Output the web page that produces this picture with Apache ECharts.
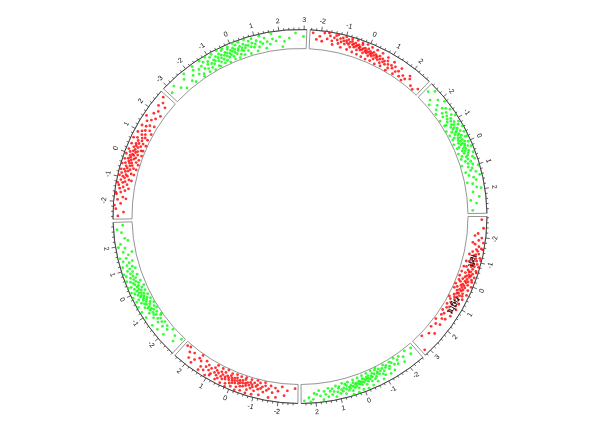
<!DOCTYPE html>
<html><head><meta charset="utf-8">
<script src="https://cdn.jsdelivr.net/npm/echarts@6/dist/echarts.min.js"></script>
<style>html,body{margin:0;padding:0;background:#fff}#c{width:600px;height:429px}</style>
</head><body><div id="c"></div>
<script>
// ---- data ----
const sectors = ['a','b','c','d','e','f','g','h'];
const xMin = [-2.72, -2.50, -2.66, -2.68, -2.58, -3.04, -2.33, -2.56];
const xMax = [ 3.16,  2.46,  2.38,  2.85,  2.66,  2.98,  2.62,  2.85];
const yLo = 0, yHi = 1;
const pointColors = ['#FF0000','#00FF00','#FF0000','#00FF00','#FF0000','#00FF00','#FF0000','#00FF00'];
const ticksA = [-2,-1,0,1,2,3];
const ticksB = [-2,-1,0,1,2];
const ticksC = [-2,-1,0,1,2];
const ticksD = [-2,-1,0,1,2];
const ticksE = [-2,-1,0,1,2];
const ticksF = [-3,-2,-1,0,1,2,3];
const ticksG = [-2,-1,0,1,2];
const ticksH = [-2,-1,0,1,2];
const textLabels = ['left','right'];
const textX = [-1, 1];
const textY = [0.5, 0.5];

const ptsA = [[-2.72,0.74],[-2.38,0.86],[-2.15,0.58],[-1.98,0.81],[-1.87,0.66],[-1.79,0.93],[-1.70,0.49],[-1.62,0.72],[-1.55,0.87],[-1.49,0.61],[-1.43,0.70],[-1.38,0.43],[-1.33,0.79],[-1.28,0.63],[-1.22,0.54],[-1.17,0.90],[-1.12,0.68],[-1.07,0.45],[-1.03,0.76],[-0.99,0.59],[-0.95,0.37],[-0.91,0.84],[-0.87,0.64],[-0.83,0.51],[-0.79,0.72],[-0.75,0.56],[-0.71,0.30],[-0.67,0.67],[-0.63,0.88],[-0.59,0.44],[-0.55,0.61],[-0.52,0.52],[-0.48,0.75],[-0.45,0.34],[-0.41,0.58],[-0.38,0.69],[-0.34,0.47],[-0.31,0.63],[-0.27,0.40],[-0.24,0.80],[-0.20,0.55],[-0.17,0.32],[-0.13,0.66],[-0.10,0.49],[-0.06,0.58],[-0.03,0.25],[0.01,0.71],[0.04,0.43],[0.08,0.53],[0.11,0.36],[0.15,0.62],[0.18,0.46],[0.22,0.20],[0.26,0.57],[0.29,0.39],[0.33,0.50],[0.37,0.28],[0.41,0.64],[0.45,0.42],[0.49,0.34],[0.53,0.53],[0.58,0.23],[0.62,0.45],[0.67,0.31],[0.72,0.58],[0.77,0.38],[0.82,0.16],[0.88,0.48],[0.94,0.27],[1.00,0.40],[1.07,0.13],[1.14,0.34],[1.22,0.22],[1.30,0.41],[1.39,0.10],[1.49,0.28],[1.60,0.19],[1.73,0.35],[1.88,0.08],[2.05,0.24],[2.27,0.14],[2.55,0.30],[2.84,0.11],[3.16,0.78],
  [-2.05,0.42],[-1.76,0.35],[-1.52,0.96],[-1.25,0.28],[-1.09,0.97],[-0.93,0.20],[-0.81,0.95],[-0.69,0.15],[-0.57,0.92],[-0.46,0.12],[-0.36,0.90],[-0.26,0.09],[-0.16,0.86],[-0.08,0.14],[0.03,0.93],[0.12,0.05],[0.21,0.83],[0.31,0.07],[0.40,0.88],[0.51,0.68],[0.63,0.77],[0.74,0.04],[0.86,0.71],[0.98,0.62],[1.11,0.74],[1.26,0.58],[1.45,0.66],[1.67,0.52],[1.98,0.47],[2.40,0.55]];
const ptsB = [[-2.50,0.18],[-2.21,0.09],[-2.02,0.31],[-1.86,0.14],[-1.74,0.26],[-1.63,0.06],[-1.54,0.38],[-1.46,0.21],[-1.39,0.12],[-1.32,0.33],[-1.26,0.45],[-1.20,0.19],[-1.14,0.28],[-1.09,0.08],[-1.04,0.40],[-0.99,0.23],[-0.94,0.52],[-0.89,0.31],[-0.85,0.16],[-0.80,0.43],[-0.76,0.27],[-0.72,0.36],[-0.68,0.11],[-0.64,0.49],[-0.60,0.30],[-0.56,0.58],[-0.52,0.22],[-0.48,0.41],[-0.44,0.34],[-0.41,0.62],[-0.37,0.47],[-0.33,0.25],[-0.30,0.39],[-0.26,0.55],[-0.23,0.31],[-0.19,0.44],[-0.16,0.68],[-0.12,0.37],[-0.09,0.51],[-0.05,0.29],[-0.02,0.46],[0.02,0.60],[0.05,0.42],[0.09,0.53],[0.12,0.35],[0.16,0.48],[0.19,0.71],[0.23,0.40],[0.26,0.57],[0.30,0.45],[0.34,0.63],[0.37,0.33],[0.41,0.52],[0.45,0.76],[0.49,0.44],[0.53,0.59],[0.57,0.50],[0.61,0.68],[0.66,0.38],[0.70,0.56],[0.75,0.81],[0.80,0.47],[0.85,0.64],[0.90,0.53],[0.96,0.73],[1.02,0.42],[1.08,0.61],[1.15,0.85],[1.22,0.55],[1.30,0.70],[1.38,0.49],[1.47,0.78],[1.57,0.62],[1.68,0.90],[1.80,0.67],[1.94,0.57],[2.10,0.82],[2.27,0.72],[2.46,0.88],
  [-2.35,0.44],[-1.95,0.58],[-1.68,0.47],[-1.43,0.66],[-1.23,0.72],[-1.01,0.64],[-0.87,0.80],[-0.74,0.03],[-0.62,0.77],[-0.50,0.05],[-0.39,0.86],[-0.28,0.09],[-0.17,0.92],[-0.07,0.12],[0.04,0.88],[0.14,0.15],[0.24,0.94],[0.35,0.17],[0.47,0.96],[0.59,0.21],[0.72,0.28],[0.84,0.19],[0.98,0.33],[1.12,0.26],[1.28,0.38],[1.45,0.31],[1.63,0.45],[1.85,0.37],[2.05,0.50],[2.20,0.95]];
const ptsC = [[-2.66,0.21],[-2.34,0.35],[-2.11,0.16],[-1.95,0.42],[-1.83,0.27],[-1.72,0.55],[-1.63,0.19],[-1.55,0.37],[-1.47,0.48],[-1.40,0.24],[-1.34,0.61],[-1.28,0.33],[-1.22,0.44],[-1.16,0.14],[-1.11,0.52],[-1.06,0.29],[-1.01,0.39],[-0.96,0.66],[-0.92,0.22],[-0.87,0.47],[-0.83,0.35],[-0.79,0.57],[-0.75,0.26],[-0.71,0.43],[-0.67,0.71],[-0.63,0.31],[-0.59,0.50],[-0.55,0.38],[-0.52,0.18],[-0.48,0.59],[-0.44,0.42],[-0.41,0.28],[-0.37,0.64],[-0.34,0.46],[-0.30,0.34],[-0.27,0.53],[-0.23,0.75],[-0.20,0.40],[-0.16,0.25],[-0.13,0.57],[-0.09,0.45],[-0.06,0.32],[-0.02,0.62],[0.01,0.49],[0.05,0.38],[0.08,0.69],[0.12,0.27],[0.15,0.54],[0.19,0.43],[0.23,0.80],[0.26,0.36],[0.30,0.58],[0.34,0.47],[0.38,0.23],[0.42,0.65],[0.46,0.41],[0.51,0.55],[0.55,0.30],[0.60,0.72],[0.65,0.44],[0.70,0.61],[0.75,0.35],[0.81,0.52],[0.87,0.26],[0.93,0.68],[1.00,0.40],[1.07,0.57],[1.15,0.31],[1.23,0.48],[1.32,0.19],[1.42,0.63],[1.53,0.37],[1.65,0.28],[1.79,0.51],[1.95,0.22],[2.14,0.34],[2.38,0.15],
  [-2.22,0.63],[-1.88,0.78],[-1.59,0.85],[-1.37,0.07],[-1.19,0.82],[-1.03,0.05],[-0.90,0.88],[-0.77,0.09],[-0.65,0.91],[-0.53,0.06],[-0.42,0.86],[-0.31,0.11],[-0.21,0.94],[-0.11,0.08],[-0.01,0.83],[0.10,0.13],[0.20,0.97],[0.31,0.04],[0.43,0.89],[0.56,0.10],[0.68,0.84],[0.80,0.07],[0.95,0.79],[1.10,0.92],[1.26,0.72],[1.44,0.86],[1.60,0.05],[1.84,0.76],[2.03,0.62],[2.24,0.09]];
const ptsD = [[-2.68,0.12],[-2.37,0.24],[-2.12,0.08],[-1.96,0.33],[-1.84,0.19],[-1.73,0.41],[-1.64,0.15],[-1.56,0.28],[-1.48,0.47],[-1.41,0.22],[-1.35,0.36],[-1.29,0.11],[-1.23,0.53],[-1.18,0.30],[-1.13,0.42],[-1.08,0.18],[-1.03,0.38],[-0.98,0.59],[-0.94,0.26],[-0.89,0.45],[-0.85,0.34],[-0.81,0.14],[-0.77,0.50],[-0.73,0.39],[-0.69,0.63],[-0.65,0.29],[-0.61,0.46],[-0.57,0.21],[-0.54,0.55],[-0.50,0.40],[-0.46,0.68],[-0.43,0.33],[-0.39,0.51],[-0.36,0.25],[-0.32,0.44],[-0.29,0.72],[-0.25,0.37],[-0.22,0.57],[-0.18,0.48],[-0.15,0.30],[-0.11,0.64],[-0.08,0.42],[-0.04,0.53],[-0.01,0.77],[0.03,0.36],[0.06,0.60],[0.10,0.47],[0.13,0.26],[0.17,0.69],[0.21,0.50],[0.25,0.40],[0.29,0.81],[0.33,0.56],[0.37,0.33],[0.41,0.62],[0.45,0.45],[0.50,0.74],[0.55,0.52],[0.60,0.38],[0.65,0.66],[0.70,0.49],[0.76,0.85],[0.82,0.58],[0.88,0.43],[0.95,0.70],[1.02,0.54],[1.10,0.36],[1.18,0.63],[1.27,0.47],[1.37,0.78],[1.48,0.57],[1.60,0.41],[1.74,0.66],[1.90,0.52],[2.08,0.73],[2.30,0.45],[2.55,0.60],[2.85,0.50],
  [-2.48,0.52],[-2.01,0.66],[-1.70,0.74],[-1.45,0.83],[-1.26,0.03],[-1.06,0.87],[-0.92,0.06],[-0.79,0.91],[-0.66,0.04],[-0.55,0.94],[-0.44,0.09],[-0.33,0.88],[-0.23,0.13],[-0.13,0.96],[-0.03,0.16],[0.08,0.92],[0.19,0.11],[0.31,0.97],[0.43,0.19],[0.57,0.93],[0.71,0.24],[0.86,0.95],[1.00,0.22],[1.15,0.89],[1.32,0.27],[1.52,0.92],[1.70,0.18],[1.96,0.87],[2.20,0.29],[2.68,0.83]];
const ptsE = [[-2.58,0.76],[-2.29,0.88],[-2.07,0.63],[-1.92,0.82],[-1.80,0.54],[-1.70,0.91],[-1.61,0.69],[-1.53,0.47],[-1.46,0.78],[-1.39,0.60],[-1.33,0.86],[-1.27,0.41],[-1.21,0.67],[-1.16,0.55],[-1.11,0.80],[-1.06,0.36],[-1.01,0.62],[-0.96,0.73],[-0.92,0.49],[-0.87,0.58],[-0.83,0.84],[-0.79,0.31],[-0.75,0.66],[-0.71,0.52],[-0.67,0.75],[-0.63,0.43],[-0.59,0.61],[-0.55,0.26],[-0.52,0.70],[-0.48,0.50],[-0.44,0.38],[-0.41,0.79],[-0.37,0.57],[-0.34,0.45],[-0.30,0.64],[-0.27,0.22],[-0.23,0.53],[-0.20,0.71],[-0.16,0.40],[-0.13,0.60],[-0.09,0.33],[-0.06,0.67],[-0.02,0.48],[0.01,0.56],[0.05,0.28],[0.08,0.74],[0.12,0.44],[0.15,0.59],[0.19,0.35],[0.23,0.52],[0.27,0.19],[0.31,0.65],[0.35,0.42],[0.39,0.55],[0.43,0.30],[0.47,0.61],[0.52,0.46],[0.57,0.24],[0.62,0.57],[0.67,0.37],[0.72,0.68],[0.78,0.43],[0.84,0.28],[0.90,0.53],[0.97,0.36],[1.04,0.62],[1.12,0.47],[1.20,0.25],[1.29,0.55],[1.39,0.39],[1.50,0.66],[1.62,0.48],[1.76,0.32],[1.91,0.58],[2.08,0.44],[2.28,0.63],[2.47,0.52],[2.66,0.72],
  [-2.42,0.45],[-2.15,0.97],[-1.86,0.36],[-1.64,0.96],[-1.43,0.29],[-1.24,0.95],[-1.08,0.21],[-0.94,0.93],[-0.81,0.15],[-0.69,0.92],[-0.57,0.10],[-0.46,0.95],[-0.35,0.07],[-0.25,0.89],[-0.14,0.12],[-0.04,0.91],[0.07,0.06],[0.17,0.87],[0.29,0.09],[0.41,0.84],[0.54,0.05],[0.66,0.88],[0.80,0.11],[0.94,0.81],[1.09,0.08],[1.25,0.78],[1.44,0.14],[1.67,0.85],[1.96,0.18],[2.37,0.27]];
const ptsF = [[-3.04,0.52],[-2.63,0.38],[-2.31,0.61],[-2.08,0.27],[-1.92,0.47],[-1.79,0.70],[-1.68,0.33],[-1.58,0.55],[-1.50,0.19],[-1.42,0.63],[-1.35,0.41],[-1.28,0.76],[-1.22,0.30],[-1.16,0.52],[-1.10,0.66],[-1.05,0.24],[-1.00,0.45],[-0.95,0.81],[-0.90,0.36],[-0.86,0.58],[-0.81,0.49],[-0.77,0.15],[-0.73,0.69],[-0.69,0.40],[-0.65,0.56],[-0.61,0.28],[-0.57,0.74],[-0.53,0.47],[-0.49,0.62],[-0.46,0.34],[-0.42,0.85],[-0.38,0.53],[-0.35,0.21],[-0.31,0.66],[-0.28,0.43],[-0.24,0.58],[-0.21,0.31],[-0.17,0.77],[-0.14,0.50],[-0.10,0.39],[-0.07,0.64],[-0.03,0.26],[0.00,0.55],[0.04,0.71],[0.07,0.44],[0.11,0.60],[0.14,0.33],[0.18,0.82],[0.22,0.48],[0.25,0.58],[0.29,0.23],[0.33,0.67],[0.37,0.42],[0.41,0.55],[0.45,0.36],[0.49,0.73],[0.54,0.49],[0.58,0.61],[0.63,0.29],[0.68,0.57],[0.73,0.79],[0.79,0.45],[0.85,0.63],[0.91,0.38],[0.98,0.54],[1.05,0.70],[1.12,0.32],[1.20,0.59],[1.29,0.46],[1.38,0.75],[1.48,0.52],[1.59,0.36],[1.71,0.62],[1.85,0.48],[2.01,0.68],[2.19,0.41],[2.40,0.57],[2.66,0.83],[2.98,0.64],
  [-2.80,0.72],[-2.45,0.15],[-2.18,0.86],[-1.98,0.09],[-1.74,0.90],[-1.55,0.06],[-1.38,0.93],[-1.24,0.11],[-1.12,0.95],[-0.98,0.05],[-0.84,0.91],[-0.71,0.08],[-0.59,0.96],[-0.48,0.12],[-0.36,0.93],[-0.25,0.04],[-0.13,0.89],[-0.01,0.10],[0.09,0.97],[0.20,0.07],[0.32,0.92],[0.44,0.14],[0.57,0.94],[0.71,0.09],[0.87,0.88],[1.02,0.13],[1.19,0.91],[1.41,0.17],[1.68,0.93],[2.10,0.12]];
const ptsG = [[-2.33,0.87],[-2.05,0.71],[-1.87,0.92],[-1.74,0.62],[-1.63,0.81],[-1.54,0.55],[-1.46,0.75],[-1.39,0.89],[-1.33,0.66],[-1.27,0.48],[-1.21,0.78],[-1.16,0.60],[-1.11,0.85],[-1.06,0.69],[-1.01,0.53],[-0.96,0.74],[-0.92,0.64],[-0.88,0.83],[-0.84,0.57],[-0.80,0.70],[-0.76,0.45],[-0.72,0.79],[-0.68,0.62],[-0.64,0.68],[-0.60,0.51],[-0.57,0.76],[-0.53,0.59],[-0.49,0.66],[-0.46,0.41],[-0.42,0.72],[-0.39,0.56],[-0.35,0.63],[-0.32,0.47],[-0.28,0.80],[-0.25,0.53],[-0.21,0.61],[-0.18,0.37],[-0.14,0.67],[-0.11,0.50],[-0.07,0.58],[-0.04,0.44],[0.00,0.70],[0.03,0.52],[0.07,0.33],[0.10,0.61],[0.14,0.46],[0.18,0.55],[0.21,0.39],[0.25,0.64],[0.29,0.48],[0.33,0.29],[0.37,0.57],[0.41,0.42],[0.45,0.51],[0.50,0.35],[0.54,0.60],[0.59,0.44],[0.64,0.25],[0.69,0.53],[0.74,0.38],[0.80,0.47],[0.86,0.31],[0.92,0.56],[0.99,0.40],[1.06,0.22],[1.14,0.45],[1.22,0.34],[1.31,0.50],[1.41,0.27],[1.52,0.39],[1.64,0.17],[1.77,0.33],[1.92,0.24],[2.09,0.41],[2.29,0.15],[2.62,0.28],
  [-2.18,0.52],[-1.95,0.45],[-1.69,0.97],[-1.50,0.36],[-1.31,0.96],[-1.14,0.30],[-0.99,0.95],[-0.86,0.27],[-0.74,0.93],[-0.62,0.22],[-0.51,0.94],[-0.40,0.18],[-0.30,0.90],[-0.19,0.14],[-0.09,0.91],[0.02,0.10],[0.12,0.86],[0.23,0.13],[0.35,0.84],[0.47,0.07],[0.60,0.81],[0.73,0.11],[0.87,0.74],[1.02,0.05],[1.18,0.69],[1.36,0.09],[1.57,0.62],[1.82,0.07],[2.02,0.55],[2.45,0.06]];
const ptsH = [[-2.56,0.58],[-2.25,0.34],[-2.04,0.66],[-1.89,0.45],[-1.77,0.25],[-1.67,0.57],[-1.58,0.72],[-1.50,0.40],[-1.43,0.61],[-1.36,0.31],[-1.30,0.52],[-1.24,0.77],[-1.18,0.44],[-1.13,0.63],[-1.08,0.36],[-1.03,0.55],[-0.98,0.21],[-0.94,0.69],[-0.89,0.48],[-0.85,0.59],[-0.81,0.38],[-0.77,0.81],[-0.73,0.53],[-0.69,0.42],[-0.65,0.65],[-0.61,0.29],[-0.57,0.56],[-0.53,0.47],[-0.50,0.74],[-0.46,0.37],[-0.42,0.60],[-0.39,0.51],[-0.35,0.26],[-0.32,0.68],[-0.28,0.44],[-0.25,0.57],[-0.21,0.84],[-0.18,0.39],[-0.14,0.62],[-0.11,0.49],[-0.07,0.33],[-0.04,0.71],[0.00,0.54],[0.03,0.43],[0.07,0.64],[0.10,0.28],[0.14,0.58],[0.17,0.76],[0.21,0.47],[0.25,0.60],[0.29,0.36],[0.33,0.52],[0.37,0.70],[0.41,0.41],[0.45,0.63],[0.50,0.23],[0.54,0.55],[0.59,0.45],[0.64,0.79],[0.69,0.50],[0.75,0.32],[0.81,0.61],[0.87,0.43],[0.94,0.67],[1.01,0.38],[1.09,0.57],[1.17,0.46],[1.26,0.73],[1.36,0.30],[1.47,0.53],[1.59,0.64],[1.73,0.40],[1.89,0.59],[2.07,0.35],[2.29,0.66],[2.55,0.48],[2.85,0.24],
  [-2.38,0.86],[-2.12,0.12],[-1.83,0.91],[-1.62,0.08],[-1.45,0.89],[-1.28,0.06],[-1.14,0.94],[-1.00,0.11],[-0.87,0.92],[-0.75,0.04],[-0.63,0.96],[-0.52,0.09],[-0.41,0.90],[-0.30,0.13],[-0.20,0.95],[-0.09,0.07],[0.02,0.88],[0.12,0.15],[0.23,0.93],[0.35,0.10],[0.48,0.91],[0.61,0.14],[0.74,0.87],[0.89,0.06],[1.04,0.94],[1.21,0.16],[1.42,0.89],[1.65,0.12],[1.95,0.82],[2.42,0.17]];

const allPts = [ptsA, ptsB, ptsC, ptsD, ptsE, ptsF, ptsG, ptsH];
const allTicks = [ticksA, ticksB, ticksC, ticksD, ticksE, ticksF, ticksG, ticksH];

// ---- layout ----
const CX = 300, CY = 216.5, R_IN = 168, R_OUT = 187, R_PAD = 0.5;
const GAP = 1, PAD = 1, START = 0;
const ranges = xMin.map((m, i) => xMax[i] - m);
const k = (360 - sectors.length * (GAP + 2 * PAD)) / ranges.reduce((s, v) => s + v, 0);
const startDeg = [], endDeg = [];
let cur = START;
ranges.forEach(r => { startDeg.push(cur); cur -= r * k + 2 * PAD; endDeg.push(cur); cur -= GAP; });
const lo = xMin.map(v => v - PAD / k), hi = xMax.map(v => v + PAD / k);

const FONT = '"Liberation Sans", Arial, sans-serif';

function dirInfo(p, cs) {
  const dx = p[0] - cs.cx, dy = p[1] - cs.cy, r = Math.hypot(dx, dy);
  return { ux: dx / r, uy: dy / r, deg: Math.atan2(-dy, dx) * 180 / Math.PI, ang: Math.atan2(dy, dx) };
}
function norm(d) { while (d > 180) d -= 360; while (d <= -180) d += 360; return d; }

const series = [];
sectors.forEach((s, i) => {
  // frame
  series.push({
    type: 'custom', coordinateSystem: 'polar', polarIndex: i, silent: true, z: 1,
    data: [[yLo, lo[i], hi[i]]],
    renderItem: (params, api) => {
      const cs = params.coordSys;
      const a1 = dirInfo(api.coord([api.value(0), api.value(1)]), cs).ang;
      let a2 = dirInfo(api.coord([api.value(0), api.value(2)]), cs).ang;
      while (a2 < a1) a2 += Math.PI * 2;
      const r0 = cs.r0 - R_PAD, r1 = cs.r + R_PAD;
      return { type: 'group', children: [
        { type: 'sector', shape: { cx: cs.cx, cy: cs.cy, r0: r0, r: r1, startAngle: a1, endAngle: a2, clockwise: true },
          style: { fill: '#fff', stroke: '#7a7a7a', lineWidth: 0.8 } },
        { type: 'arc', shape: { cx: cs.cx, cy: cs.cy, r: r1, startAngle: a1, endAngle: a2, clockwise: true },
          style: { fill: null, stroke: '#222', lineWidth: 0.7 } }
      ]};
    }
  });
  // ticks + labels
  const tickData = [];
  const majors = allTicks[i];
  for (let m = Math.ceil(lo[i] * 5 - 1e-9); m <= Math.floor(hi[i] * 5 + 1e-9); m++) {
    const v = m / 5;
    const isMajor = majors.some(t => Math.abs(t - v) < 1e-9) ? 1 : 0;
    if (!isMajor) tickData.push([yHi, v, 0]);
  }
  majors.forEach(t => tickData.push([yHi, t, 1]));
  series.push({
    type: 'custom', coordinateSystem: 'polar', polarIndex: i, silent: true, z: 3,
    data: tickData,
    renderItem: (params, api) => {
      const cs = params.coordSys;
      const v = api.value(1), major = api.value(2) === 1;
      const p0 = api.coord([api.value(0), v]);
      const d = dirInfo(p0, cs);
      const p = [p0[0] + d.ux * R_PAD, p0[1] + d.uy * R_PAD];
      const len = major ? 4 : 2;
      const kids = [{ type: 'line', shape: { x1: p[0], y1: p[1], x2: p[0] + d.ux * len, y2: p[1] + d.uy * len },
        style: { stroke: '#222', lineWidth: 0.7 } }];
      if (major) {
        let rot = norm(d.deg - 90);
        if (rot > 90 || rot < -90) rot = norm(rot + 180);
        kids.push({ type: 'text', x: p[0] + d.ux * 9.5, y: p[1] + d.uy * 9.5, rotation: rot * Math.PI / 180,
          style: { text: String(v), fill: '#111', fontSize: 7, fontFamily: FONT, align: 'center', verticalAlign: 'middle' } });
      }
      return { type: 'group', children: kids };
    }
  });
  // points
  series.push({
    type: 'scatter', coordinateSystem: 'polar', polarIndex: i, clip: false, z: 2,
    symbol: 'circle', symbolSize: 2.8, silent: true,
    itemStyle: { color: pointColors[i] },
    data: allPts[i].map(p => [p[1], p[0]])
  });
});
// text in sector a
series.push({
  type: 'custom', coordinateSystem: 'polar', polarIndex: 0, silent: true, z: 4,
  data: textX.map((x, j) => [textY[j], x, j]),
  renderItem: (params, api) => {
    const cs = params.coordSys;
    const p = api.coord([api.value(0), api.value(1)]);
    const d = dirInfo(p, cs);
    const rot = norm(d.deg - 90);
    return { type: 'text', x: p[0], y: p[1], rotation: rot * Math.PI / 180,
      style: { text: textLabels[api.value(2)], fill: '#000', fontSize: 9, fontFamily: FONT, align: 'center', verticalAlign: 'middle' } };
  }
});

const chart = echarts.init(document.getElementById('c'), null, { renderer: 'canvas' });
chart.setOption({
  backgroundColor: '#fff',
  animation: false,
  polar: sectors.map(() => ({ center: [CX, CY], radius: [R_IN + R_PAD, R_OUT - R_PAD] })),
  angleAxis: sectors.map((s, i) => ({
    polarIndex: i, type: 'value', min: lo[i], max: hi[i],
    startAngle: startDeg[i], endAngle: endDeg[i], clockwise: true, show: false,
    axisLine: { show: false }, axisTick: { show: false }, axisLabel: { show: false }, splitLine: { show: false }
  })),
  radiusAxis: sectors.map((s, i) => ({
    polarIndex: i, type: 'value', min: yLo, max: yHi, show: false,
    axisLine: { show: false }, axisTick: { show: false }, axisLabel: { show: false }, splitLine: { show: false }
  })),
  series: series
});
</script></body></html>
